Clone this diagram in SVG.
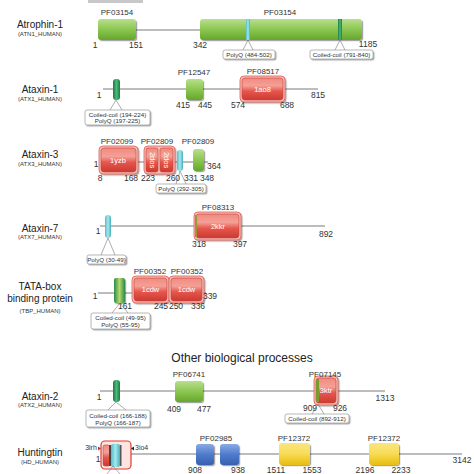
<svg xmlns="http://www.w3.org/2000/svg" width="474" height="474" viewBox="0 0 474 474">
<defs>
<linearGradient id="gG" x1="0" y1="0" x2="0" y2="1"><stop offset="0" stop-color="#b9df8e"/><stop offset="0.45" stop-color="#8fc955"/><stop offset="1" stop-color="#66a62c"/></linearGradient>
<linearGradient id="gR" x1="0" y1="0" x2="0" y2="1"><stop offset="0" stop-color="#f08a80"/><stop offset="0.35" stop-color="#f4a096"/><stop offset="0.6" stop-color="#e5564c"/><stop offset="1" stop-color="#cc3a32"/></linearGradient>
<linearGradient id="gB" x1="0" y1="0" x2="0" y2="1"><stop offset="0" stop-color="#8aaae4"/><stop offset="0.5" stop-color="#4f7bcc"/><stop offset="1" stop-color="#3760ad"/></linearGradient>
<linearGradient id="gY" x1="0" y1="0" x2="0" y2="1"><stop offset="0" stop-color="#f9e480"/><stop offset="0.45" stop-color="#f8de5a"/><stop offset="1" stop-color="#e8bd10"/></linearGradient>
<linearGradient id="gC" x1="0" y1="0" x2="1" y2="0"><stop offset="0" stop-color="#4fbfc9"/><stop offset="0.5" stop-color="#a8e6ec"/><stop offset="1" stop-color="#45b1bd"/></linearGradient>
<linearGradient id="gD" x1="0" y1="0" x2="1" y2="0"><stop offset="0" stop-color="#1e7a45"/><stop offset="0.5" stop-color="#4cba78"/><stop offset="1" stop-color="#1e7a45"/></linearGradient>
<linearGradient id="gT" x1="0" y1="0" x2="1" y2="0"><stop offset="0" stop-color="#2a8a4a"/><stop offset="0.5" stop-color="#b6d86a"/><stop offset="1" stop-color="#2a8a4a"/></linearGradient>
<filter id="sh" x="-20%" y="-20%" width="140%" height="150%"><feDropShadow dx="1.2" dy="1.2" stdDeviation="0.7" flood-color="#000" flood-opacity="0.35"/></filter>
</defs>
<style>
text{font-family:"Liberation Sans",Arial,sans-serif;}
.ln{stroke:#7a7a7a;stroke-width:1;fill:none}
.tl{stroke:#777;stroke-width:0.6;fill:none}
.nm{font-size:10px;fill:#222;text-anchor:middle}
.id{font-size:6px;fill:#333;text-anchor:middle}
.pf{font-size:8px;fill:#333;text-anchor:middle}
.num{font-size:8.5px;fill:#333;text-anchor:middle}
.sm{font-size:7px;fill:#333}
.cb{fill:#fff;stroke:#888;stroke-width:0.6;filter:url(#sh)}
.ct{font-size:6.2px;fill:#333;text-anchor:middle}
.g{fill:url(#gG);filter:url(#sh)}
.r{fill:url(#gR);stroke:#c84038;stroke-width:0.6}
.halo{fill:#f6c0ba;stroke:#dc5a50;stroke-width:0.8;filter:url(#sh)}
.b{fill:url(#gB);filter:url(#sh)}
.y{fill:url(#gY);filter:url(#sh)}
.cy{fill:url(#gC)}
.dg{fill:url(#gD)}
.wt{font-size:7.5px;fill:#fff;text-anchor:middle}
.hd{font-size:12px;fill:#222;text-anchor:middle}
</style>
<rect x="88" y="0" width="55" height="3" fill="#c8c8c8"/>

<g id="atrophin1">
<text class="nm" x="40" y="28">Atrophin-1</text>
<text class="id" x="40" y="36">(ATN1_HUMAN)</text>
<line class="ln" x1="98" y1="30" x2="362" y2="30"/>
<rect class="g" x="98" y="19" width="38" height="21" rx="3"/>
<rect class="g" x="200" y="19" width="162" height="21" rx="3"/>
<rect class="cy" x="246" y="19" width="4" height="21"/>
<rect class="dg" x="338" y="19" width="4" height="21"/>
<text class="pf" x="117" y="15">PF03154</text>
<text class="pf" x="280" y="15">PF03154</text>
<text class="num" x="95" y="48">1</text>
<text class="num" x="136" y="48">151</text>
<text class="num" x="200" y="48">342</text>
<text class="num" x="368" y="47">1185</text>
<path class="tl" d="M243,50 L248,40 L253,50 M335,50 L340,40 L345,50"/>
<rect class="cb" x="223" y="50" width="52" height="9" rx="2"/>
<text class="ct" x="249" y="57">PolyQ (484-502)</text>
<rect class="cb" x="310" y="50" width="63" height="9" rx="2"/>
<text class="ct" x="341.5" y="57">Coiled-coil (791-840)</text>
</g>

<g id="ataxin1">
<text class="nm" x="40" y="93">Ataxin-1</text>
<text class="id" x="40" y="101">(ATX1_HUMAN)</text>
<line class="ln" x1="103" y1="89" x2="318" y2="89"/>
<text class="num" x="99" y="98">1</text>
<rect class="dg" x="113" y="79" width="7" height="21" rx="3"/>
<rect class="g" x="186" y="79" width="17" height="21" rx="3"/>
<text class="pf" x="194" y="75">PF12547</text>
<rect class="halo" x="240" y="76" width="45" height="26" rx="4"/>
<rect class="r" x="242" y="78" width="41" height="22" rx="3"/>
<text class="wt" x="262.5" y="92">1ao8</text>
<text class="pf" x="263" y="74">PF08517</text>
<text class="num" x="183" y="108">415</text>
<text class="num" x="205" y="108">445</text>
<text class="num" x="238" y="108">574</text>
<text class="num" x="287" y="108">688</text>
<text class="num" x="318" y="98">815</text>
<path class="tl" d="M110,110 L116,100 L122,110"/>
<rect class="cb" x="85" y="110" width="65" height="15" rx="2"/>
<text class="ct" x="117.5" y="116.5">Coiled-coil (194-224)</text>
<text class="ct" x="117.5" y="123">PolyQ (197-225)</text>
</g>

<g id="ataxin3">
<text class="nm" x="40" y="158">Ataxin-3</text>
<text class="id" x="40" y="166">(ATX3_HUMAN)</text>
<line class="ln" x1="99" y1="162" x2="208" y2="162"/>
<text class="num" x="96" y="167">1</text>
<rect class="halo" x="99" y="146" width="39" height="28" rx="4"/>
<rect class="r" x="101" y="148" width="35" height="24" rx="3"/>
<text class="wt" x="118" y="163">1yzb</text>
<rect class="halo" x="144" y="146" width="31" height="28" rx="4"/>
<rect class="r" x="146" y="148" width="12" height="24" rx="2"/>
<rect class="r" x="160" y="148" width="13" height="24" rx="2"/>
<text class="wt" transform="translate(152,160) rotate(90)" y="2.5" x="0">2dos</text>
<text class="wt" transform="translate(166.5,160) rotate(90)" y="2.5" x="0">2dos</text>
<rect class="cy" x="177" y="150" width="6" height="21" rx="3"/>
<rect class="g" x="193" y="149" width="11" height="22" rx="3"/>
<text class="pf" x="117" y="144">PF02099</text>
<text class="pf" x="157" y="144">PF02809</text>
<text class="pf" x="198" y="144">PF02809</text>
<text class="num" x="214" y="169">364</text>
<text class="num" x="100" y="181">8</text>
<text class="num" x="131" y="181">168</text>
<text class="num" x="148" y="181">223</text>
<text class="num" x="173" y="181">260</text>
<text class="num" x="191" y="181">331</text>
<text class="num" x="207" y="181">348</text>
<path class="tl" d="M176,184 L180,171 L186,184"/>
<rect class="cb" x="156" y="184" width="50" height="9" rx="2"/>
<text class="ct" x="181" y="191">PolyQ (292-305)</text>
</g>

<g id="ataxin7">
<text class="nm" x="40" y="232">Ataxin-7</text>
<text class="id" x="40" y="239">(ATX7_HUMAN)</text>
<line class="ln" x1="100" y1="226" x2="325" y2="226"/>
<text class="num" x="98" y="234">1</text>
<rect class="cy" x="105" y="215" width="6" height="23" rx="3"/>
<path class="tl" d="M101,255 L108,238 L115,255"/>
<rect class="cb" x="87" y="255" width="39" height="9" rx="2"/>
<text class="ct" x="106.5" y="262">PolyQ (30-49)</text>
<rect class="halo" x="194" y="212" width="47" height="28" rx="4"/>
<rect class="r" x="196" y="214" width="43" height="24" rx="3"/>
<rect x="195" y="215" width="2" height="22" fill="#9a9a30"/>
<text class="wt" x="218" y="229">2kkr</text>
<text class="pf" x="218" y="210">PF08313</text>
<text class="num" x="199" y="247">318</text>
<text class="num" x="240" y="247">397</text>
<text class="num" x="326" y="237">892</text>
</g>

<g id="tbp">
<text class="nm" x="40" y="290">TATA-box</text>
<text class="nm" x="40" y="302">binding protein</text>
<text class="id" x="40" y="313">(TBP_HUMAN)</text>
<line class="ln" x1="98" y1="293" x2="206" y2="293"/>
<text class="num" x="95" y="299">1</text>
<rect class="halo" x="132" y="276" width="37" height="27" rx="4"/>
<rect class="r" x="134" y="278" width="33" height="23" rx="3"/>
<text class="wt" x="150.5" y="292">1cdw</text>
<rect class="halo" x="169" y="276" width="35" height="27" rx="4"/>
<rect class="r" x="171" y="278" width="31" height="23" rx="3"/>
<text class="wt" x="186.5" y="292">1cdw</text>
<rect x="114" y="278" width="11" height="25" rx="2" fill="url(#gT)" filter="url(#sh)"/>
<text class="pf" x="150" y="274">PF00352</text>
<text class="pf" x="187" y="274">PF00352</text>
<text class="num" x="125" y="309">161</text>
<text class="num" x="161" y="309">245</text>
<text class="num" x="176" y="309">250</text>
<text class="num" x="198" y="309">336</text>
<text class="num" x="210" y="299">339</text>
<path class="tl" d="M112,313 L120,303 L128,313"/>
<rect class="cb" x="91" y="313" width="59" height="16" rx="2"/>
<text class="ct" x="120.5" y="319.5">Coiled-coil (49-95)</text>
<text class="ct" x="120.5" y="326.5">PolyQ (55-95)</text>
</g>

<text class="hd" x="242" y="362">Other biological processes</text>

<g id="ataxin2">
<text class="nm" x="40" y="400">Ataxin-2</text>
<text class="id" x="40" y="407">(ATX2_HUMAN)</text>
<line class="ln" x1="100" y1="391" x2="385" y2="391"/>
<text class="num" x="99" y="400">1</text>
<rect class="dg" x="113" y="380" width="7" height="22" rx="3"/>
<path class="tl" d="M108,410 L116,402 L126,410"/>
<rect class="cb" x="86" y="410" width="64" height="17" rx="2"/>
<text class="ct" x="118" y="417.5">Coiled-coil (166-188)</text>
<text class="ct" x="118" y="424.5">PolyQ (166-187)</text>
<rect class="g" x="175" y="381" width="28" height="21" rx="3"/>
<text class="pf" x="189" y="377">PF06741</text>
<text class="num" x="174" y="412">409</text>
<text class="num" x="204" y="412">477</text>
<rect class="halo" x="314" y="376" width="24" height="29" rx="4"/>
<rect class="r" x="316" y="378" width="20" height="25" rx="3"/>
<rect x="316" y="379" width="3" height="23" fill="#7a9a30"/>
<text class="wt" x="326" y="393">3ktr</text>
<text class="pf" x="325" y="377">PF07145</text>
<text class="num" x="310" y="411">909</text>
<text class="num" x="340" y="411">926</text>
<text class="num" x="385" y="401">1313</text>
<path class="tl" d="M312,414 L318,404 L324,414"/>
<rect class="cb" x="285" y="414" width="64" height="9" rx="2"/>
<text class="ct" x="317" y="421">Coiled-coil (892-912)</text>
</g>

<g id="huntingtin">
<text class="nm" x="40" y="456">Huntingtin</text>
<text class="id" x="40" y="464">(HD_HUMAN)</text>
<line class="ln" x1="104" y1="454" x2="462" y2="454"/>
<rect x="101" y="441" width="30" height="28" rx="4" fill="#fde4e2" stroke="#e03a30" stroke-width="1.2"/>
<rect class="r" x="103" y="445" width="7" height="21" rx="2"/>
<rect x="109" y="445" width="2" height="21" fill="#444"/>
<rect class="cy" x="111" y="444" width="9" height="23" rx="2"/>
<rect x="120" y="445" width="1.5" height="21" fill="#555"/>
<text class="sm" x="91" y="450" text-anchor="middle">3lrh</text>
<path d="M98,446.5 L101,448.5 L98,450.5 Z" fill="#c03030"/>
<text class="sm" x="135" y="450">3io4</text>
<path d="M134,446.5 L131,448.5 L134,450.5 Z" fill="#222"/>
<text class="num" x="98" y="462">1</text>
<path class="tl" d="M107,474 L113,466 L120,474"/>
<rect class="b" x="196" y="444" width="18" height="21" rx="3"/>
<rect class="b" x="220" y="444" width="19" height="21" rx="3"/>
<text class="pf" x="216" y="441">PF02985</text>
<text class="num" x="195" y="473">908</text>
<text class="num" x="238" y="473">938</text>
<rect class="y" x="279" y="443" width="31" height="22" rx="3"/>
<text class="pf" x="294" y="441">PF12372</text>
<text class="num" x="276" y="473">1511</text>
<text class="num" x="312" y="473">1553</text>
<rect class="y" x="369" y="443" width="30" height="22" rx="3"/>
<text class="pf" x="384" y="441">PF12372</text>
<text class="num" x="365" y="473">2196</text>
<text class="num" x="401" y="473">2233</text>
<text class="num" x="462" y="463">3142</text>
</g>
</svg>
